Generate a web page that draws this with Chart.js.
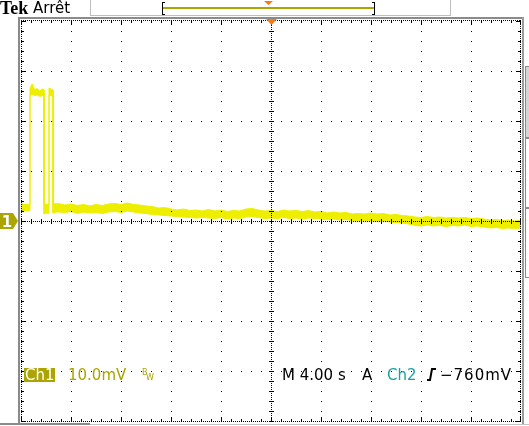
<!DOCTYPE html>
<html>
<head>
<meta charset="utf-8">
<title>Tek Arrêt</title>
<script src="https://cdn.jsdelivr.net/npm/chart.js@4.4.0/dist/chart.umd.min.js"></script>
<style>
  html, body { margin: 0; padding: 0; background: #fff; }
  canvas { display: block; }
</style>
</head>
<body>
<canvas id="scope" width="529" height="426"></canvas>
<script>
// time in seconds (4 s/div, 10 divisions), Ch1 in mV (10 mV/div, 8 divisions)
const timeS = [
  0, 0.3, 0.72, 0.72, 0.9, 1.1, 1.3, 1.5, 1.7, 1.84, 1.84, 2.0, 2.24, 2.24, 2.4, 2.56, 2.56, 2.8,
  3.0, 3.5, 4.0, 4.5, 5.0, 5.5, 6.0, 6.5, 7.0, 7.5,
  8.0, 8.5, 9.0, 9.5, 10.0, 10.5, 11.0, 11.5, 12.0, 12.5,
  13.0, 13.5, 14.0, 14.5, 15.0, 15.5, 16.0, 16.5, 17.0, 17.5,
  18.0, 18.5, 19.0, 19.5, 20.0, 20.5, 21.0, 21.5, 22.0, 22.5,
  23.0, 23.5, 24.0, 24.5, 25.0, 25.5, 26.0, 26.5, 27.0, 27.5,
  28.0, 28.5, 29.0, 29.5, 30.0, 30.5, 31.0, 31.5, 32.0, 32.5,
  33.0, 33.5, 34.0, 34.5, 35.0, 35.5, 36.0, 36.5, 37.0, 37.5,
  38.0, 38.5, 39.0, 39.5, 40.0
];
// top and bottom of the noisy trace band
const upperMv = [
  3.5, 3.3, 3.4, 26.6, 27.4, 26.2, 26.5, 26.0, 26.4, 26.2, 3.2, 3.4, 3.3, 26.6, 26.4, 26.2, 3.6, 3.4,
  3.5, 3.2, 3.4, 3.1, 3.3, 3.0, 3.3, 3.1, 3.4, 3.5,
  3.3, 3.6, 3.3, 3.2, 3.0, 2.9, 2.6, 2.7, 2.4, 2.2,
  2.4, 2.1, 2.2, 2.0, 2.3, 2.0, 2.2, 1.9, 2.1, 2.0,
  2.4, 2.5, 2.2, 2.0, 2.1, 1.9, 2.2, 2.0, 2.1, 1.9,
  2.1, 1.8, 1.9, 1.6, 1.8, 1.6, 1.7, 1.4, 1.5, 1.4,
  1.6, 1.4, 1.5, 1.2, 1.3, 1.1, 1.0, 0.8, 0.7, 0.9,
  0.7, 0.8, 0.6, 0.7, 0.6, 0.7, 0.5, 0.6, 0.4, 0.2,
  0.3, 0.1, 0.2, 0.0, 0.1
];
const lowerMv = [
  2.1, 2.0, 2.1, 25.0, 25.3, 25.1, 25.2, 24.9, 25.1, 25.0, 1.4, 1.6, 1.5, 25.2, 25.0, 25.1, 1.6, 1.8,
  1.8, 1.7, 1.9, 1.5, 1.8, 1.6, 1.7, 1.5, 1.8, 1.9,
  1.7, 2.0, 1.8, 1.6, 1.5, 1.3, 1.2, 1.1, 1.0, 0.9,
  0.8, 0.7, 0.6, 0.7, 0.6, 0.5, 0.7, 0.4, 0.6, 0.5,
  0.8, 0.9, 0.7, 0.5, 0.6, 0.5, 0.7, 0.5, 0.6, 0.4,
  0.6, 0.5, 0.4, 0.3, 0.4, 0.2, 0.3, 0.1, 0.0, 0.1,
  0.0, -0.1, 0.0, -0.2, -0.3, -0.4, -0.6, -0.9, -1.0, -0.8,
  -1.0, -0.9, -1.1, -0.9, -1.0, -0.8, -1.1, -1.0, -1.2, -1.4,
  -1.3, -1.5, -1.4, -1.5, -1.4
];
// graticule divisions
const timeDivs = [0, 4, 8, 12, 16, 20, 24, 28, 32, 36, 40];
const voltDivs = [-40, -30, -20, -10, 0, 10, 20, 30, 40];
const triggerTime = 20;

const TRACE = '#eeee00';
const OLIVE = '#aca400';
const TEAL = '#1aa0a4';
const ORANGE = '#f47a1c';

// screen furniture: graticule, rulers, header and readouts
const scopeScreen = {
  id: 'scopeScreen',
  afterDatasetsDraw(chart) {
    const { ctx, chartArea: a, scales: { x, y } } = chart;
    const px = t => Math.min(Math.round(x.getPixelForValue(t)), a.right - 1);
    const py = v => Math.min(Math.round(y.getPixelForValue(v)), a.bottom);
    const minorT = [], minorV = [];
    for (let i = 0; i <= 50; i++) minorT.push(i * 0.8);
    for (let i = 0; i <= 40; i++) minorV.push(-40 + i * 2);
    const isMajor = (v, step) => Math.abs(v / step - Math.round(v / step)) < 1e-6;

    ctx.save();
    ctx.fillStyle = '#000';
    // dotted division lines
    timeDivs.slice(1, -1).forEach(t => {
      if (t === triggerTime) return;
      minorV.forEach(v => ctx.fillRect(px(t), py(v), 1, 1));
    });
    voltDivs.slice(1, -1).forEach(v => {
      if (v === 0) return;
      minorT.forEach(t => ctx.fillRect(px(t), py(v), 1, 1));
    });
    // centre cross with minor ticks
    const cx = px(triggerTime), cy = py(0);
    for (let yy = a.top; yy <= a.bottom; yy += 2) ctx.fillRect(cx, yy, 1, 1);
    for (let xx = a.left; xx < a.right; xx += 2) ctx.fillRect(xx, cy, 1, 1);
    minorV.forEach(v => ctx.fillRect(cx - 2, py(v), 5, 1));
    minorT.forEach(t => ctx.fillRect(px(t), cy - 2, 1, 5));
    // border lines with ticks
    const top = a.top - 1, bottom = a.bottom, left = a.left, right = a.right - 1;
    for (let xx = left; xx <= right; xx += 2) {
      ctx.fillRect(xx, top, 1, 1);
      ctx.fillRect(xx, bottom, 1, 1);
    }
    for (let yy = top; yy <= bottom; yy += 2) {
      ctx.fillRect(left, yy, 1, 1);
      ctx.fillRect(right, yy, 1, 1);
    }
    minorT.forEach(t => {
      const len = isMajor(t, 4) ? 5 : 3;
      ctx.fillRect(px(t), top, 1, len);
      ctx.fillRect(px(t), bottom - len + 1, 1, len);
    });
    minorV.forEach(v => {
      const len = isMajor(v, 10) ? 5 : 3;
      ctx.fillRect(left, py(v), len, 1);
      ctx.fillRect(right - len + 1, py(v), len, 1);
    });

    // frame bands
    ctx.fillStyle = '#8a8a8a';
    ctx.fillRect(18, 17, 506, 2);
    ctx.fillRect(18, 17, 2, 408);
    ctx.fillStyle = '#9c9c9c';
    ctx.fillRect(522, 17, 2, 408);
    ctx.fillStyle = '#8a8a8a';
    ctx.fillRect(0, 423, 90, 2);
    ctx.fillStyle = '#c4c4c4';
    ctx.fillRect(90, 424, 439, 1);

    // record view bar on the right
    ctx.fillStyle = '#d6d6d6';
    ctx.fillRect(526, 66, 3, 71);
    ctx.fillStyle = '#8a8a8a';
    ctx.fillRect(525, 66, 1, 212);
    ctx.fillRect(525, 66, 4, 1);
    ctx.fillRect(525, 137, 4, 2);
    ctx.fillRect(525, 207, 4, 2);
    ctx.fillRect(525, 277, 4, 1);

    // trigger position marker on the ruler
    ctx.fillStyle = ORANGE;
    ctx.beginPath();
    ctx.moveTo(cx - 5, 19);
    ctx.lineTo(cx + 6, 19);
    ctx.lineTo(cx + 0.5, 25);
    ctx.closePath();
    ctx.fill();

    // header
    ctx.fillStyle = '#000';
    ctx.textBaseline = 'alphabetic';
    ctx.font = 'bold 18px "Liberation Serif"';
    ctx.fillText('Tek', 0, 14);
    ctx.font = '15px "DejaVu Sans"';
    ctx.fillText('Arrêt', 33, 13);
    ctx.fillStyle = '#bdbdbd';
    ctx.fillRect(90, 0, 1, 16);
    ctx.fillRect(90, 15, 360, 1);
    ctx.fillRect(450, 0, 1, 16);
    // record window bracket
    ctx.fillStyle = '#000';
    ctx.fillRect(162, 2, 1, 13);
    ctx.fillRect(162, 2, 3, 1);
    ctx.fillRect(162, 14, 3, 1);
    ctx.fillRect(374, 2, 1, 13);
    ctx.fillRect(372, 2, 3, 1);
    ctx.fillRect(372, 14, 3, 1);
    ctx.fillStyle = OLIVE;
    ctx.fillRect(163, 7, 211, 2);
    ctx.fillStyle = ORANGE;
    ctx.beginPath();
    ctx.moveTo(264, 1);
    ctx.lineTo(273, 1);
    ctx.lineTo(268.5, 5);
    ctx.closePath();
    ctx.fill();

    // channel 1 ground marker
    ctx.fillStyle = OLIVE;
    ctx.beginPath();
    ctx.moveTo(0, cy - 8);
    ctx.lineTo(13, cy - 8);
    ctx.lineTo(18, cy);
    ctx.lineTo(13, cy + 8);
    ctx.lineTo(0, cy + 8);
    ctx.closePath();
    ctx.fill();
    ctx.fillStyle = '#fff';
    ctx.font = 'bold 15px "DejaVu Sans"';
    ctx.textAlign = 'center';
    ctx.fillText('1', 7, cy + 6);
    ctx.textAlign = 'left';

    // readouts
    ctx.font = '15px "DejaVu Sans"';
    ctx.fillStyle = OLIVE;
    ctx.fillRect(24, 368, 31, 14);
    ctx.fillStyle = '#fff';
    ctx.fillText('Ch1', 25, 380);
    ctx.fillStyle = OLIVE;
    ctx.fillText('10.0mV', 68, 380);
    ctx.font = '8px "DejaVu Sans"';
    ctx.fillText('B', 142, 375);
    ctx.fillText('W', 146, 380);
    ctx.font = '15px "DejaVu Sans"';
    ctx.fillStyle = '#000';
    ctx.fillText('M 4.00 s', 282, 380);
    ctx.fillText('A', 362, 380);
    ctx.fillStyle = TEAL;
    ctx.fillText('Ch2', 387, 380);
    ctx.fillStyle = '#000';
    ctx.letterSpacing = '1px';
    ctx.fillText('\u2212760mV', 440, 380);
    ctx.letterSpacing = '0px';
    // rising edge symbol
    ctx.strokeStyle = '#000';
    ctx.lineWidth = 2;
    ctx.beginPath();
    ctx.moveTo(427, 380);
    ctx.lineTo(430, 380);
    ctx.lineTo(432, 369);
    ctx.lineTo(436, 369);
    ctx.stroke();
    ctx.restore();
  }
};

const upperPoints = timeS.map((t, i) => ({ x: t, y: upperMv[i] }));
const lowerPoints = timeS.map((t, i) => ({ x: t, y: lowerMv[i] }));

new Chart(document.getElementById('scope'), {
  type: 'line',
  data: {
    datasets: [
      { label: 'Ch1 max', data: upperPoints, borderColor: TRACE, borderWidth: 1, pointRadius: 0, fill: false },
      { label: 'Ch1 min', data: lowerPoints, borderColor: TRACE, backgroundColor: TRACE, borderWidth: 1, pointRadius: 0, fill: '-1' }
    ]
  },
  options: {
    responsive: false,
    animation: false,
    devicePixelRatio: 1,
    layout: { padding: { left: 21, top: 21, right: 8, bottom: 5 } },
    elements: { line: { tension: 0 } },
    plugins: { legend: { display: false }, tooltip: { enabled: false } },
    scales: {
      x: { type: 'linear', min: 0, max: 40, display: false },
      y: { type: 'linear', min: -40, max: 40, display: false }
    }
  },
  plugins: [scopeScreen]
});
</script>
</body>
</html>
